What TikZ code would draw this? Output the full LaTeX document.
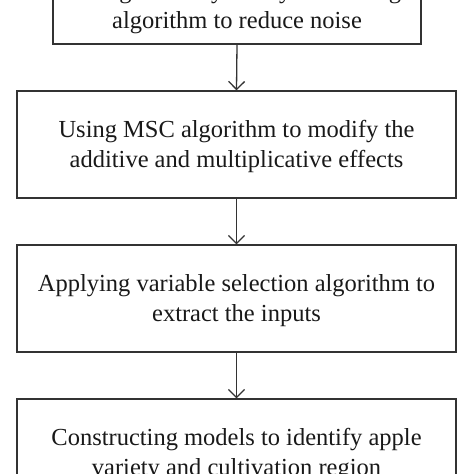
\documentclass[tikz,border=0pt]{standalone}
\usepackage{fontspec}
\setmainfont{Liberation Serif}
\usetikzlibrary{arrows.meta}
\newcommand{\toprule}{\rule{0pt}{21pt}}
\begin{document}
\begin{tikzpicture}[x=1pt,y=-1pt,
  stepbox/.style={draw=black!80, line width=1.3pt, align=center, inner sep=0pt,
    font=\fontsize{24.5}{30}\selectfont, text=black!90, minimum height=107pt},
  flow/.style={draw=black!80, line width=1.3pt, -{Straight Barb[length=8pt,width=16pt]}}]
\useasboundingbox (0,0) rectangle (474,474);
\clip (0,0) rectangle (474,474);
\node[stepbox, minimum width=368pt, minimum height=77.7pt] (b1) at (237,5.15) {\toprule Using Savitzky-Golay smoothing\\algorithm to reduce noise};
\node[stepbox, minimum width=439pt] (b2) at (236.5,144.5) {\toprule Using MSC algorithm to modify the\\additive and multiplicative effects};
\node[stepbox, minimum width=439pt] (b3) at (236.5,298.5) {\toprule Applying variable selection algorithm to\\extract the inputs};
\node[stepbox, minimum width=439pt] (b4) at (236.5,452.5) {\toprule Constructing models to identify apple\\variety and cultivation region};
\draw[flow] (b1.south) -- (b2.north);
\draw[flow] (b2.south) -- (b3.north);
\draw[flow] (b3.south) -- (b4.north);
\end{tikzpicture}
\end{document}
